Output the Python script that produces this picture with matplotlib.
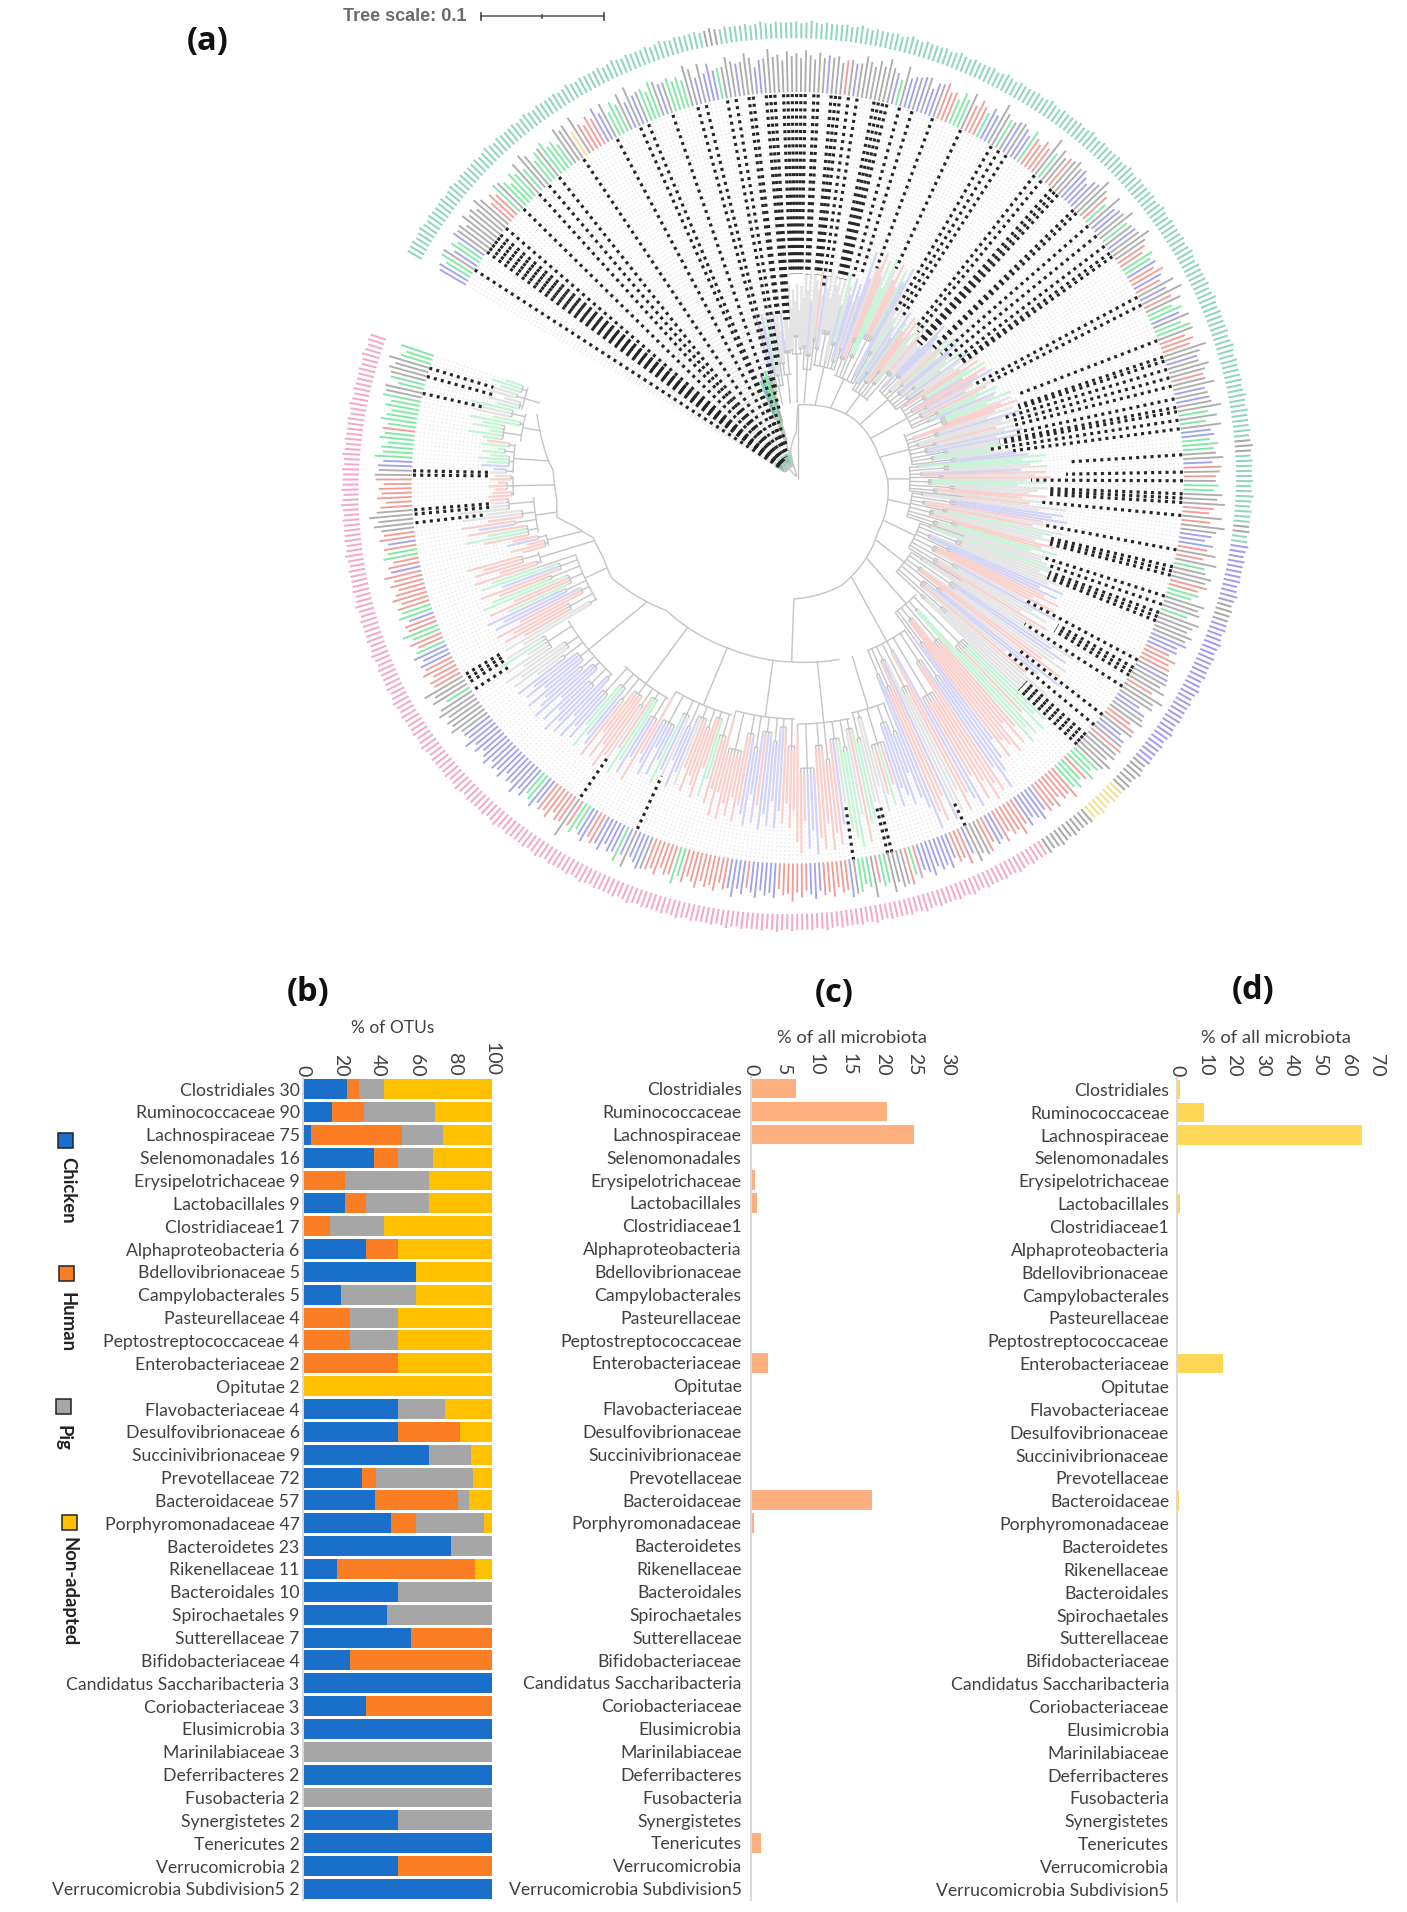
import numpy as np
import matplotlib
matplotlib.use("Agg")
import matplotlib.pyplot as plt
from matplotlib.collections import LineCollection
from matplotlib.patches import Rectangle

W, H = 1407, 1912
plt.rcParams['font.family'] = ['Lato', 'DejaVu Sans']

# ---------- bar data ----------
families = ["Clostridiales", "Ruminococcaceae", "Lachnospiraceae", "Selenomonadales",
            "Erysipelotrichaceae", "Lactobacillales", "Clostridiaceae1", "Alphaproteobacteria",
            "Bdellovibrionaceae", "Campylobacterales", "Pasteurellaceae", "Peptostreptococcaceae",
            "Enterobacteriaceae", "Opitutae", "Flavobacteriaceae", "Desulfovibrionaceae",
            "Succinivibrionaceae", "Prevotellaceae", "Bacteroidaceae", "Porphyromonadaceae",
            "Bacteroidetes", "Rikenellaceae", "Bacteroidales", "Spirochaetales", "Sutterellaceae",
            "Bifidobacteriaceae", "Candidatus Saccharibacteria", "Coriobacteriaceae", "Elusimicrobia",
            "Marinilabiaceae", "Deferribacteres", "Fusobacteria", "Synergistetes", "Tenericutes",
            "Verrucomicrobia", "Verrucomicrobia Subdivision5"]
otu_counts = [30, 90, 75, 16, 9, 9, 7, 6, 5, 5, 4, 4, 2, 2, 4, 6, 9, 72, 57, 47, 23, 11, 10, 9, 7, 4,
              3, 3, 3, 3, 2, 2, 2, 2, 2, 2]
chicken = [23.3, 15.6, 4, 37.5, 0, 22.2, 0, 33.3, 60, 20, 0, 0, 0, 0, 50, 50, 66.7, 31.4, 38, 46.8,
           78.3, 18.2, 50, 44.4, 57.1, 25, 100, 33.3, 100, 0, 100, 0, 50, 100, 50, 100]
human = [6.2, 16.7, 48.4, 12.5, 22.2, 11.1, 14.3, 16.7, 0, 0, 25, 25, 50, 0, 0, 33.3, 0, 7.3, 44, 12.8,
         0, 72.8, 0, 0, 42.9, 75, 0, 66.7, 0, 0, 0, 0, 0, 0, 50, 0]
pig = [13.5, 37.5, 21.8, 18.7, 44.5, 33.4, 28.6, 0, 0, 40, 25, 25, 0, 0, 25, 0, 22.2, 51.5, 5.7, 36.1,
       21.7, 0, 50, 55.6, 0, 0, 0, 0, 0, 100, 0, 100, 50, 0, 0, 0]
non_adapted = [57, 30.2, 25.8, 31.3, 33.3, 33.3, 57.1, 50, 40, 40, 50, 50, 50, 100, 25, 16.7, 11.1, 9.8,
               12.3, 4.3, 0, 9, 0, 0, 0, 0, 0, 0, 0, 0, 0, 0, 0, 0, 0, 0]
pct_c = [6.9, 20.7, 24.9, 0, 0.6, 0.9, 0, 0, 0, 0, 0, 0, 2.6, 0, 0, 0, 0, 0, 18.4, 0.5,
         0, 0, 0, 0, 0, 0, 0, 0, 0, 0, 0, 0, 0, 1.5, 0, 0]
pct_d = [1, 9.5, 65, 0.6, 0.5, 1.2, 0, 0, 0, 0, 0, 0, 16.3, 0, 0, 0, 0, 0, 0.8, 0,
         0, 0, 0, 0, 0, 0, 0, 0, 0, 0, 0, 0, 0, 0, 0.6, 0]
hosts = ["Chicken", "Human", "Pig", "Non-adapted"]
host_colors = ["#1a6fcb", "#fb7d24", "#a6a6a6", "#ffc000"]

# ---------- tree data: leaf label colours, clockwise from the gap ----------
inner_runs = ("B2 G2 B2 G2 B6 K4 R3 G8 K2 G7 K2 Y2 K1 R4 B3 G3 K1 B3 G4 K1 B2 G4 K2 "
              "B5 G2 K1 B2 K3 B2 G2 K2 R1 G2 K7 B1 K1 G1 "
              "G1 R1 G1 B2 K3 G1 B2 K1 B1 G1 K1 B4 K1 B3 R3 G3 K1 R3 G1 B2 K1 R1 G2 B4 G1 R4 G2 K2 R1 K1 R1 "
              "B6 K2 R1 G2 B2 K2 G2 B3 K1 R2 G2 B1 "
              "R2 B1 R1 B2 R2 K1 G2 B1 K1 G2 K1 R3 G2 B2 K1 R2 B1 K1 B3 R2 G3 B1 B2 G3 K2 B1 R3 G3 R5 R2 K2 "
              "B3 R3 K1 G3 R3 G3 K1 G2 B2 G1 K2 B3 R4 B3 R3 K1 R1 K1 B2 K2 R3 B2 R2 K3 B2 "
              "G3 R1 G3 R7 B5 R6 B2 R2 K2 B2 R3 B8 R1 G1 R1 K2 R1 G3 R1 K1 G3 B2 R6 B3 R7 B6 R1 B4 R3 "
              "R7 G2 R6 K1 B5 G1 B5 R2 B2 G2 R8 B2 G2 B10 B8 K3 K3 G2 B3 R5 B3 G1 R2 G2 R2 B1 G2 R8 B1 R2 G2 "
              "R1 B1 R2 K1 G1 K1 R3 R8 B2 G6 R1 G2 G5 K1 G3 K1 G1 K1 G4")
outer_runs = "T74 K3 T147 K3 T14 K2 T2 B12 K4 B32 K7 Y8 K11 P221"
# first leaf, last leaf, inner radius reached by the black dotted branch
black_groups = [(4, 4, 20), (9, 14, 20), (16, 16, 20), (22, 22, 20), (27, 27, 20), (30, 30, 20), (33, 33, 20),
                (40, 40, 25), (49, 49, 25), (55, 55, 30), (57, 57, 30), (63, 63, 35), (69, 69, 70), (71, 71, 90),
                (76, 76, 115), (78, 78, 120), (81, 82, 165), (85, 87, 160), (89, 94, 205), (96, 97, 205),
                (100, 102, 205), (104, 104, 195), (106, 106, 205), (110, 113, 205), (116, 116, 210),
                (119, 119, 215), (124, 124, 225), (131, 131, 232), (139, 139, 195), (141, 141, 200),
                (143, 143, 195), (151, 151, 195), (153, 153, 190), (156, 158, 182), (163, 164, 189),
                (168, 168, 190), (171, 171, 195), (174, 174, 198), (176, 177, 200), (188, 188, 199),
                (190, 190, 215), (199, 199, 235), (203, 204, 232), (206, 206, 213), (208, 208, 223),
                (210, 210, 222), (213, 213, 222), (215, 216, 205), (218, 218, 195), (220, 220, 217),
                (226, 226, 274), (230, 230, 268), (232, 232, 233), (235, 237, 250), (240, 240, 245),
                (248, 248, 250), (252, 254, 260), (259, 259, 259), (261, 261, 263), (263, 265, 268),
                (275, 275, 257), (277, 279, 298), (282, 282, 269), (290, 290, 280), (293, 293, 270),
                (296, 299, 305), (331, 331, 358), (349, 350, 335), (358, 358, 328), (409, 409, 327),
                (424, 424, 339), (459, 459, 344), (461, 463, 342), (500, 500, 314), (502, 503, 308),
                (511, 512, 308), (530, 530, 324), (534, 534, 314), (536, 536, 318)]
# first leaf, end leaf, backbone number, radius of clade node, radius of tips
clades = [(0, 60, 0, 14, 26), (60, 69, 0, 40, 105), (69, 80, 1, 95, 165), (80, 88, 1, 105, 165),
          (88, 96, 1, 125, 190), (96, 104, 1, 110, 205), (104, 122, 1, 115, 205), (122, 140, 1, 110, 235),
          (140, 158, 1, 105, 195), (158, 178, 1, 120, 205), (178, 196, 1, 125, 215), (196, 222, 1, 115, 225),
          (222, 242, 1, 112, 245), (242, 262, 1, 115, 265), (262, 282, 1, 130, 285), (282, 300, 1, 135, 325),
          (300, 316, 1, 165, 345), (316, 338, 1, 185, 370), (338, 352, 2, 240, 340), (352, 372, 2, 245, 368),
          (372, 395, 2, 240, 345), (395, 418, 2, 245, 330), (418, 438, 2, 255, 345), (438, 462, 2, 270, 348),
          (462, 482, 2, 235, 335), (482, 487, 2, 270, 335), (487, 492, 2, 258, 295), (492, 505, 2, 265, 335),
          (505, 512, 2, 285, 308), (512, 522, 2, 285, 316), (522, 532, 2, 280, 330), (532, 540, 2, 285, 320)]
backbone_phi = {0: [40, 45, 58, 60, 75], 1: [75, 103, 134, 152, 184, 204, 218, 242],
                2: [227, 242, 262, 285, 302, 308, 314, 318, 321, 325, 332, 335, 344]}
backbone_r = {0: [3, 28, 47, 74, 76], 1: [76, 82, 84, 90, 96, 107, 115, 120],
              2: [185, 183, 183, 186, 211, 210, 213, 228, 244, 242, 245, 252, 269]}
subclade_sizes = [3, 2, 4, 2, 3, 5, 2, 3]
tip_offsets = [0, -12, 5, -22, 3, -8, 8, -16, 2, -26, 6, -5, -14, 4, -20]
node_steps = [0.08, 0.22, 0.14, 0.3, 0.18, 0.36, 0.06, 0.26]
label_lengths = [30, 33, 28, 36, 31, 27, 34, 29, 38, 30, 32, 26, 35]
outer_lengths = [16, 16, 17, 15, 16, 18, 16, 15, 17, 16]
ring_phi = [0, 45, 90, 150, 230, 285, 300, 349]
ring_shift = [0, 6, 2, 2, -3, 8, 10, -1]

inner_colors = {"B": "#a2a2ec", "G": "#7fe9a4", "R": "#f09d97", "K": "#adadad", "Y": "#f4dd92"}
pale_colors = {"B": "#d4d4f7", "G": "#c6f4d6", "R": "#fad0cc", "K": "#e4e4e4", "Y": "#f8edb8"}
outer_colors = {"T": "#8fd6ba", "P": "#f3a9cb", "B": "#a59cea", "K": "#a9a9a9", "Y": "#f6df8a"}


def expand(runs):
    out = []
    for tok in runs.split():
        out += [tok[0]] * int(tok[1:])
    return out


def px_axes(left, top, right, bottom, **kw):
    return fig.add_axes([left / W, 1 - bottom / H, (right - left) / W, (bottom - top) / H], **kw)


fig = plt.figure(figsize=(W / 100, H / 100), dpi=100)
fig.patch.set_facecolor("white")

# ---------- panel (a): circular tree on polar axes ----------
CX, CY, RM = 798, 479, 472
tree = px_axes(CX - RM, CY - RM, CX + RM, CY + RM, projection="polar")
tree.set_theta_offset(np.radians(150))
tree.set_theta_direction(-1)
tree.set_rlim(0, RM)
tree.set_axis_off()

leaf_codes = expand(inner_runs)
ring_codes = expand(outer_runs)
NL = len(leaf_codes)
phi_leaf = (np.arange(NL) + 0.5) * 349.0 / NL
RING_IN = 385

black_start = {}
for a, b, r in black_groups:
    for i in range(a, b + 1):
        black_start[i] = r
        leaf_codes[i] = "K"


def radial(phi, r0, r1):
    t = np.radians(phi)
    return [(t, r0), (t, r1)]


def arc(p0, p1, r0, r1=None):
    r1 = r0 if r1 is None else r1
    n = max(2, int(abs(p1 - p0) / 1.0) + 2)
    return list(zip(np.radians(np.linspace(p0, p1, n)), np.linspace(r0, r1, n)))


grey_segs, tip_segs, tip_cols, dot_segs = [], [], [], []
tip_r = np.zeros(NL)
k = 0
for c_i, (i0, i1, bb, r_node, r_tip) in enumerate(clades):
    p_mid = 0.5 * (phi_leaf[i0] + phi_leaf[i1 - 1])
    r_att = float(np.interp(p_mid, backbone_phi[bb], backbone_r[bb]))
    r_att = min(r_att, r_node)
    grey_segs.append(radial(p_mid, r_att, r_node))
    grey_segs.append(arc(phi_leaf[i0], phi_leaf[i1 - 1], r_node))
    i = i0
    while i < i1:
        size = subclade_sizes[k % len(subclade_sizes)]
        step = node_steps[k % len(node_steps)]
        j = min(i + size, i1)
        r_sub = r_node + step * (r_tip - r_node)
        p_sub = 0.5 * (phi_leaf[i] + phi_leaf[j - 1])
        p_anchor = np.clip(p_sub, phi_leaf[i0], phi_leaf[i1 - 1])
        grey_segs.append(radial(p_anchor, r_node, r_sub))
        if j - i > 1:
            grey_segs.append(arc(phi_leaf[i], phi_leaf[j - 1], r_sub))
        r_branch = r_sub + 0.2 * (r_tip - r_sub) * step
        for m in range(i, j):
            tip = r_tip + tip_offsets[m % len(tip_offsets)] * min(1.0, (r_tip - r_node) / 60.0)
            tip = max(tip, r_sub + 6)
            if m in black_start:
                tip = min(tip, black_start[m])
            tip_r[m] = tip
            rb = min(r_branch, tip)
            grey_segs.append(radial(phi_leaf[m], r_sub, rb))
            tip_segs.append(radial(phi_leaf[m], rb, tip))
            tip_cols.append(inner_colors[leaf_codes[m]] if m < 69 else pale_colors[leaf_codes[m]])
        i = j
        k += 1

for bb in backbone_phi:
    pts = []
    for a, b, ra, rb in zip(backbone_phi[bb][:-1], backbone_phi[bb][1:], backbone_r[bb][:-1], backbone_r[bb][1:]):
        pts += arc(a, b, ra, rb)
    grey_segs.append(pts)
grey_segs.append(radial(242, backbone_r[1][-1], backbone_r[2][1]))
grey_segs.append(radial(60, 0, backbone_r[0][3]))

black_segs = []
for m in range(NL):
    if m in black_start:
        black_segs.append(radial(phi_leaf[m], RING_IN, black_start[m]))
    else:
        dot_segs.append(radial(phi_leaf[m], RING_IN, tip_r[m]))

tree.add_collection(LineCollection(dot_segs, colors="#e8e8e8", linewidths=0.9,
                                   linestyles=[(0, (1.2, 2.0))]), autolim=False)
tree.add_collection(LineCollection(tip_segs, colors=tip_cols, linewidths=1.7), autolim=False)
tree.add_collection(LineCollection(grey_segs, colors="#c4c4c4", linewidths=1.0), autolim=False)
tree.add_collection(LineCollection(black_segs, colors="#262626", linewidths=2.3,
                                   linestyles=[(0, (0.95, 1.3))]), autolim=False)

# inner ring of leaf labels
shift_in = np.interp(phi_leaf, ring_phi, np.array(ring_shift) * 0.4)
in_segs = [radial(phi_leaf[m], RING_IN + shift_in[m],
                  RING_IN + shift_in[m] + label_lengths[m % len(label_lengths)] + (6 if leaf_codes[m] == "K" else 0))
           for m in range(NL)]
tree.add_collection(LineCollection(in_segs, colors=[inner_colors[c] for c in leaf_codes], linewidths=1.35),
                    autolim=False)

# outer ring of host labels
NO = len(ring_codes)
phi_out = (np.arange(NO) + 0.5) * 349.0 / NO
shift_out = np.interp(phi_out, ring_phi, ring_shift)
out_segs = [radial(phi_out[m], 436 + shift_out[m], 436 + shift_out[m] + outer_lengths[m % len(outer_lengths)])
            for m in range(NO)]
tree.add_collection(LineCollection(out_segs, colors=[outer_colors[c] for c in ring_codes], linewidths=1.45),
                    autolim=False)


# ---------- bar panels ----------
def style_bar(ax, labels, xticks, xmax, lab_pad):
    ax.set_ylim(35.5, -0.5)
    ax.set_xlim(0, xmax)
    ax.set_yticks(range(36))
    ax.set_yticklabels(labels)
    ax.set_xticks(xticks)
    ax.xaxis.tick_top()
    ax.tick_params(axis="x", length=0, pad=1, labelrotation=-90, labelsize=14, labelcolor="#404040")
    ax.tick_params(axis="y", length=0, pad=lab_pad, labelsize=12.7, labelcolor="#404040")
    for lab in ax.get_xticklabels():
        lab.set_ha("center")
        lab.set_va("bottom")
    for s in ("top", "right", "bottom"):
        ax.spines[s].set_visible(False)
    ax.spines["left"].set_color("#d9d9d9")
    ax.spines["left"].set_linewidth(1.4)
    ax.patch.set_alpha(0)


ax_b = px_axes(303, 1077.6, 492, 1900.4)
left = np.zeros(36)
for vals, col, name in zip((chicken, human, pig, non_adapted), host_colors, hosts):
    ax_b.barh(range(36), vals, left=left, height=0.87, color=col, label=name)
    left += np.array(vals)
style_bar(ax_b, [f"{f} {n}" for f, n in zip(families, otu_counts)], [0, 20, 40, 60, 80, 100], 100, 2.5)

ax_c = px_axes(750.7, 1077.2, 948, 1900)
ax_c.barh(range(36), pct_c, height=0.85, color="#fdaf80")
style_bar(ax_c, families, [0, 5, 10, 15, 20, 25, 30], 30, 6.5)

ax_d = px_axes(1176.7, 1078, 1376.7, 1900.8)
ax_d.barh(range(36), pct_d, height=0.85, color="#ffd757")
style_bar(ax_d, families, [0, 10, 20, 30, 40, 50, 60, 70], 70, 5.5)

# ---------- figure-level annotation layer in pixel coordinates ----------
ov = fig.add_axes([0, 0, 1, 1])
ov.set_xlim(0, W)
ov.set_ylim(H, 0)
ov.set_axis_off()
ov.patch.set_alpha(0)

for txt, x, y in [("(a)", 208, 41), ("(b)", 308, 992), ("(c)", 834, 993), ("(d)", 1253, 990)]:
    ov.text(x, y, txt, fontsize=23.5, fontweight="bold", ha="center", va="center", color="#111111",
            family=["Open Sans", "DejaVu Sans"])
for txt, size, x, y in [("% of OTUs", 12.5, 392.7, 1028), ("% of all microbiota", 13.2, 852, 1038),
                        ("% of all microbiota", 13.2, 1276, 1038)]:
    ov.text(x, y, txt, fontsize=size, ha="center", va="center", color="#404040")

ov.text(343, 16, "Tree scale: 0.1", fontsize=13, fontweight="bold", ha="left", va="center", color="#6a6a6a",
        family=["Liberation Sans", "DejaVu Sans"])
ov.plot([481, 604], [16, 16], color="#555555", lw=1.1)
for x, h in [(481, 3.5), (542, 1.5), (604, 3.5)]:
    ov.plot([x, x], [16 - h, 16 + h], color="#444444", lw=1.2)

legend_sq = [(65, 1140), (66, 1273), (63, 1406), (69, 1522)]
legend_tx = [(68, 1157), (67, 1292), (63, 1425), (69, 1537)]
for (sx, sy), col, (tx, ty), name in zip(legend_sq, host_colors, legend_tx, hosts):
    ov.add_patch(Rectangle((sx - 7.5, sy - 7.5), 15, 15, facecolor=col, edgecolor="#222222", lw=1.1))
    ov.text(tx, ty, name, rotation=-90, fontsize=13.3, fontweight="bold", ha="center", va="top", color="#222222")

fig.savefig("out.png", dpi=100)
